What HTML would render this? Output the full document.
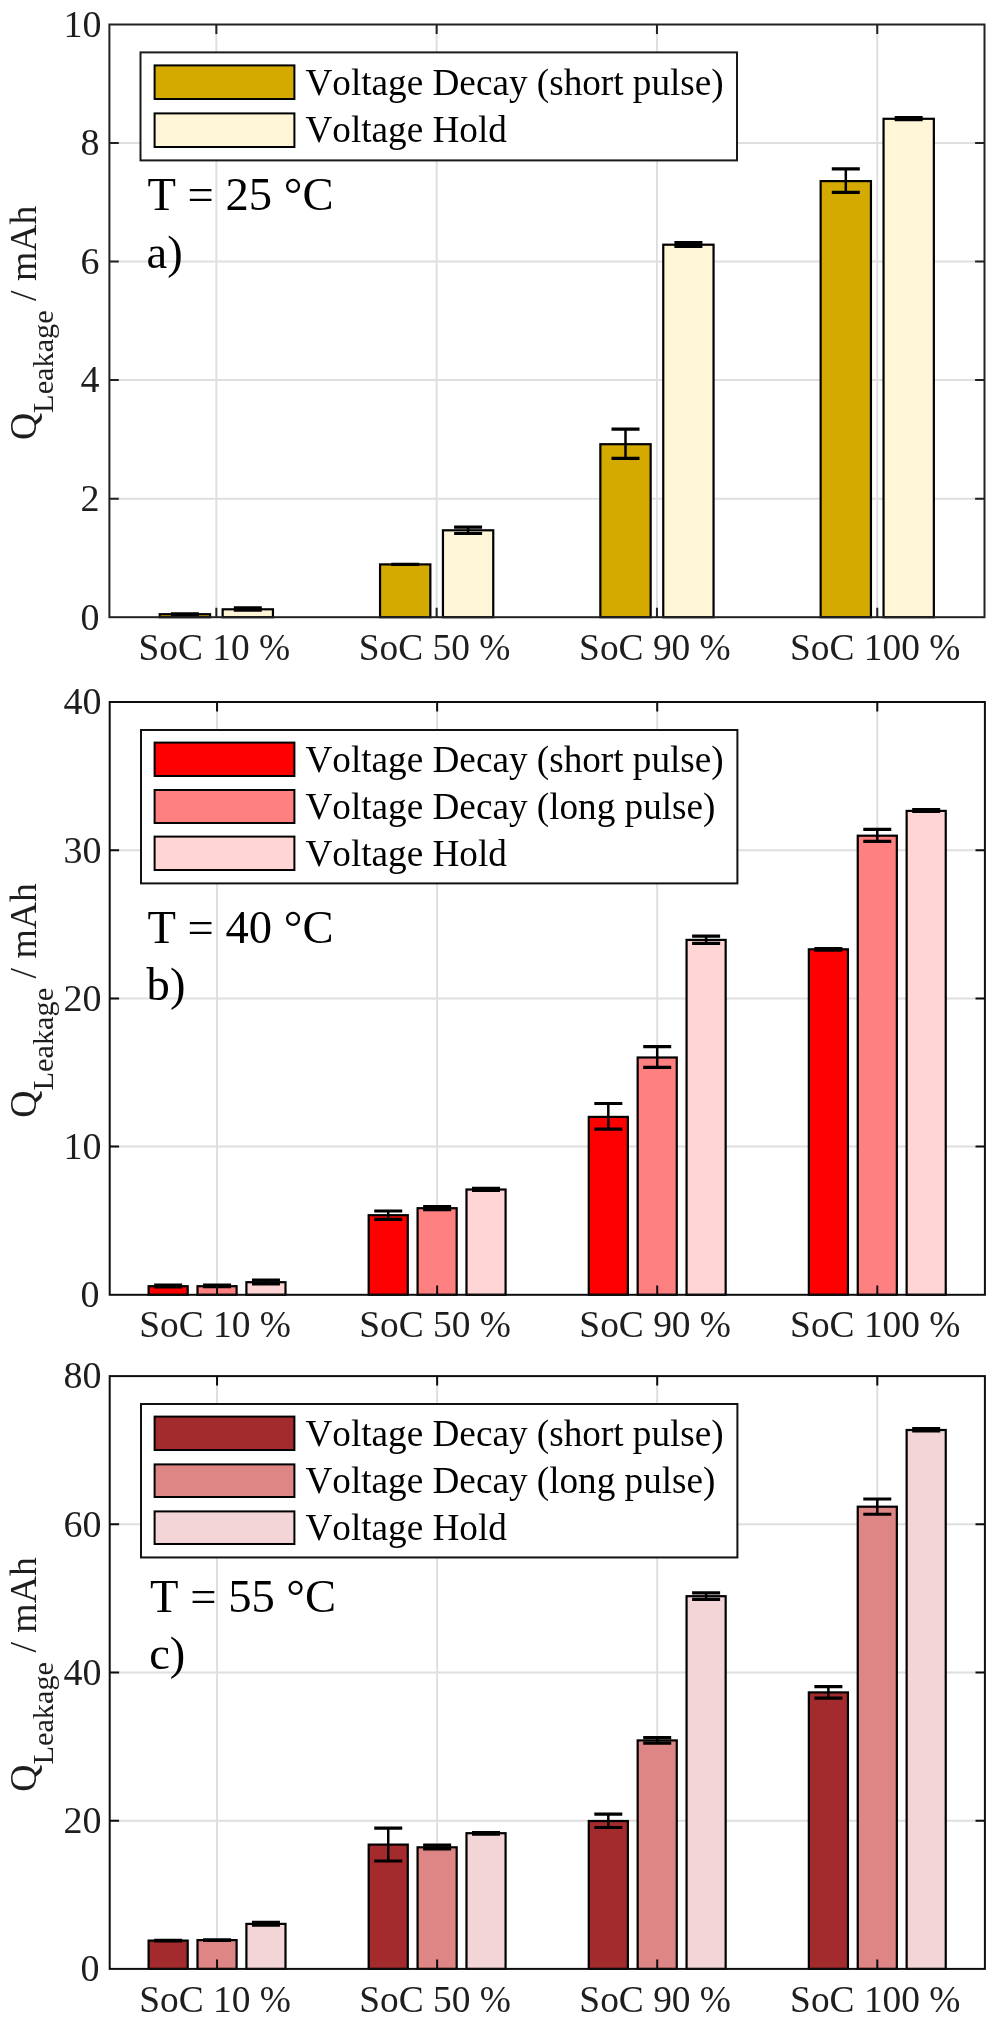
<!DOCTYPE html><html><head><meta charset="utf-8"><style>html,body{margin:0;padding:0;background:#fff;}svg{display:block;will-change:transform;}text{font-family:"Liberation Serif", serif;font-kerning:none;}</style></head><body>
<svg width="1000" height="2026" viewBox="0 0 1000 2026">
<rect x="0" y="0" width="1000" height="2026" fill="#fff"/>
<path d="M216.35 24.5V617.2M436.65 24.5V617.2M656.95 24.5V617.2M877.25 24.5V617.2M109.4 498.66H984.5M109.4 380.12H984.5M109.4 261.58H984.5M109.4 143.04H984.5" stroke="#dfdfdf" stroke-width="2" fill="none"/>
<rect x="159.75" y="614.2" width="50.3" height="3" fill="#d4aa00" stroke="#000" stroke-width="2.2"/>
<rect x="222.65" y="609.3" width="50.3" height="7.9" fill="#fff5d7" stroke="#000" stroke-width="2.2"/>
<rect x="380.05" y="564.4" width="50.3" height="52.8" fill="#d4aa00" stroke="#000" stroke-width="2.2"/>
<rect x="442.95" y="530.3" width="50.3" height="86.9" fill="#fff5d7" stroke="#000" stroke-width="2.2"/>
<rect x="600.35" y="444.2" width="50.3" height="173" fill="#d4aa00" stroke="#000" stroke-width="2.2"/>
<rect x="663.25" y="244.7" width="50.3" height="372.5" fill="#fff5d7" stroke="#000" stroke-width="2.2"/>
<rect x="820.65" y="181.1" width="50.3" height="436.1" fill="#d4aa00" stroke="#000" stroke-width="2.2"/>
<rect x="883.55" y="118.8" width="50.3" height="498.4" fill="#fff5d7" stroke="#000" stroke-width="2.2"/>
<path d="M184.9 613.9V614.6" stroke="#000" stroke-width="2.5" fill="none"/>
<path d="M170.9 613.9H198.9M170.9 614.6H198.9" stroke="#000" stroke-width="3.2" fill="none"/>
<path d="M247.8 607.9V610.1" stroke="#000" stroke-width="2.5" fill="none"/>
<path d="M233.8 607.9H261.8M233.8 610.1H261.8" stroke="#000" stroke-width="3.2" fill="none"/>
<path d="M405.2 564.3V564.5" stroke="#000" stroke-width="2.5" fill="none"/>
<path d="M391.2 564.3H419.2M391.2 564.5H419.2" stroke="#000" stroke-width="3.2" fill="none"/>
<path d="M468.1 527.2V533.5" stroke="#000" stroke-width="2.5" fill="none"/>
<path d="M454.1 527.2H482.1M454.1 533.5H482.1" stroke="#000" stroke-width="3.2" fill="none"/>
<path d="M625.5 429.2V458.4" stroke="#000" stroke-width="2.5" fill="none"/>
<path d="M611.5 429.2H639.5M611.5 458.4H639.5" stroke="#000" stroke-width="3.2" fill="none"/>
<path d="M688.4 242.6V246.3" stroke="#000" stroke-width="2.5" fill="none"/>
<path d="M674.4 242.6H702.4M674.4 246.3H702.4" stroke="#000" stroke-width="3.2" fill="none"/>
<path d="M845.8 168.9V192.4" stroke="#000" stroke-width="2.5" fill="none"/>
<path d="M831.8 168.9H859.8M831.8 192.4H859.8" stroke="#000" stroke-width="3.2" fill="none"/>
<path d="M908.7 117.6V119.6" stroke="#000" stroke-width="2.5" fill="none"/>
<path d="M894.7 117.6H922.7M894.7 119.6H922.7" stroke="#000" stroke-width="3.2" fill="none"/>
<path d="M216.35 617.2V607.8M216.35 24.5V33.9M436.65 617.2V607.8M436.65 24.5V33.9M656.95 617.2V607.8M656.95 24.5V33.9M877.25 617.2V607.8M877.25 24.5V33.9M109.4 498.66H118.8M984.5 498.66H975.1M109.4 380.12H118.8M984.5 380.12H975.1M109.4 261.58H118.8M984.5 261.58H975.1M109.4 143.04H118.8M984.5 143.04H975.1" stroke="#222222" stroke-width="2" fill="none"/>
<rect x="109.4" y="24.5" width="875.1" height="592.7" fill="none" stroke="#222222" stroke-width="2"/>
<text x="99.6" y="629.5" font-size="38" text-anchor="end" fill="#1e1e1e">0</text>
<text x="99.6" y="510.96" font-size="38" text-anchor="end" fill="#1e1e1e">2</text>
<text x="99.6" y="392.42" font-size="38" text-anchor="end" fill="#1e1e1e">4</text>
<text x="99.6" y="273.88" font-size="38" text-anchor="end" fill="#1e1e1e">6</text>
<text x="99.6" y="155.34" font-size="38" text-anchor="end" fill="#1e1e1e">8</text>
<text x="101.5" y="36.8" font-size="38" text-anchor="end" fill="#1e1e1e">10</text>
<text x="214.35" y="659.8" font-size="37.4" text-anchor="middle" fill="#1e1e1e">SoC 10 %</text>
<text x="434.65" y="659.8" font-size="37.4" text-anchor="middle" fill="#1e1e1e">SoC 50 %</text>
<text x="654.95" y="659.8" font-size="37.4" text-anchor="middle" fill="#1e1e1e">SoC 90 %</text>
<text x="875.25" y="659.8" font-size="37.4" text-anchor="middle" fill="#1e1e1e">SoC 100 %</text>
<text transform="translate(35.9 322.85) rotate(-90)" font-size="37.7" text-anchor="middle" fill="#1e1e1e">Q<tspan font-size="30.3" dy="17.4">Leakage</tspan><tspan dy="-17.4"> / mAh</tspan></text>
<rect x="140.5" y="52.4" width="596.5" height="108" fill="#fff" stroke="#1a1a1a" stroke-width="2.0"/>
<rect x="154.6" y="65.4" width="139.8" height="33.6" fill="#d4aa00" stroke="#000" stroke-width="2"/>
<text x="305.5" y="95" font-size="37.2" fill="#000">Voltage Decay (short pulse)</text>
<rect x="154.6" y="113.4" width="139.8" height="33.6" fill="#fff5d7" stroke="#000" stroke-width="2"/>
<text x="305.5" y="142.2" font-size="37.2" fill="#000">Voltage Hold</text>
<text x="147.5" y="210" font-size="46.6" fill="#000">T = 25 °C</text>
<text x="146.6" y="268" font-size="46.6" fill="#000">a)</text>
<path d="M217.05 702V1294.8M437.13 702V1294.8M657.21 702V1294.8M877.29 702V1294.8M109.7 1146.6H984.9M109.7 998.4H984.9M109.7 850.2H984.9" stroke="#dfdfdf" stroke-width="2" fill="none"/>
<rect x="148.6" y="1286.2" width="39.1" height="8.6" fill="#ff0000" stroke="#000" stroke-width="2.2"/>
<rect x="197.5" y="1286.2" width="39.1" height="8.6" fill="#ff8080" stroke="#000" stroke-width="2.2"/>
<rect x="246.4" y="1282.2" width="39.1" height="12.6" fill="#ffd5d5" stroke="#000" stroke-width="2.2"/>
<rect x="368.68" y="1215.2" width="39.1" height="79.6" fill="#ff0000" stroke="#000" stroke-width="2.2"/>
<rect x="417.58" y="1208.2" width="39.1" height="86.6" fill="#ff8080" stroke="#000" stroke-width="2.2"/>
<rect x="466.48" y="1189.5" width="39.1" height="105.3" fill="#ffd5d5" stroke="#000" stroke-width="2.2"/>
<rect x="588.76" y="1116.9" width="39.1" height="177.9" fill="#ff0000" stroke="#000" stroke-width="2.2"/>
<rect x="637.66" y="1057.5" width="39.1" height="237.3" fill="#ff8080" stroke="#000" stroke-width="2.2"/>
<rect x="686.56" y="939.9" width="39.1" height="354.9" fill="#ffd5d5" stroke="#000" stroke-width="2.2"/>
<rect x="808.84" y="949.3" width="39.1" height="345.5" fill="#ff0000" stroke="#000" stroke-width="2.2"/>
<rect x="857.74" y="835.7" width="39.1" height="459.1" fill="#ff8080" stroke="#000" stroke-width="2.2"/>
<rect x="906.64" y="810.9" width="39.1" height="483.9" fill="#ffd5d5" stroke="#000" stroke-width="2.2"/>
<path d="M168.15 1285.2V1287" stroke="#000" stroke-width="2.5" fill="none"/>
<path d="M154.15 1285.2H182.15M154.15 1287H182.15" stroke="#000" stroke-width="3.2" fill="none"/>
<path d="M217.05 1285.2V1286.6" stroke="#000" stroke-width="2.5" fill="none"/>
<path d="M203.05 1285.2H231.05M203.05 1286.6H231.05" stroke="#000" stroke-width="3.2" fill="none"/>
<path d="M265.95 1280V1283.9" stroke="#000" stroke-width="2.5" fill="none"/>
<path d="M251.95 1280H279.95M251.95 1283.9H279.95" stroke="#000" stroke-width="3.2" fill="none"/>
<path d="M388.23 1211V1219.3" stroke="#000" stroke-width="2.5" fill="none"/>
<path d="M374.23 1211H402.23M374.23 1219.3H402.23" stroke="#000" stroke-width="3.2" fill="none"/>
<path d="M437.13 1206.6V1209.6" stroke="#000" stroke-width="2.5" fill="none"/>
<path d="M423.13 1206.6H451.13M423.13 1209.6H451.13" stroke="#000" stroke-width="3.2" fill="none"/>
<path d="M486.03 1188.4V1190.4" stroke="#000" stroke-width="2.5" fill="none"/>
<path d="M472.03 1188.4H500.03M472.03 1190.4H500.03" stroke="#000" stroke-width="3.2" fill="none"/>
<path d="M608.31 1103.5V1129.2" stroke="#000" stroke-width="2.5" fill="none"/>
<path d="M594.31 1103.5H622.31M594.31 1129.2H622.31" stroke="#000" stroke-width="3.2" fill="none"/>
<path d="M657.21 1046.6V1067.4" stroke="#000" stroke-width="2.5" fill="none"/>
<path d="M643.21 1046.6H671.21M643.21 1067.4H671.21" stroke="#000" stroke-width="3.2" fill="none"/>
<path d="M706.11 936.15V943.45" stroke="#000" stroke-width="2.5" fill="none"/>
<path d="M692.11 936.15H720.11M692.11 943.45H720.11" stroke="#000" stroke-width="3.2" fill="none"/>
<path d="M828.39 948.6V950.2" stroke="#000" stroke-width="2.5" fill="none"/>
<path d="M814.39 948.6H842.39M814.39 950.2H842.39" stroke="#000" stroke-width="3.2" fill="none"/>
<path d="M877.29 829.4V841.4" stroke="#000" stroke-width="2.5" fill="none"/>
<path d="M863.29 829.4H891.29M863.29 841.4H891.29" stroke="#000" stroke-width="3.2" fill="none"/>
<path d="M926.19 809.7V811.3" stroke="#000" stroke-width="2.5" fill="none"/>
<path d="M912.19 809.7H940.19M912.19 811.3H940.19" stroke="#000" stroke-width="3.2" fill="none"/>
<path d="M217.05 1294.8V1285.4M217.05 702V711.4M437.13 1294.8V1285.4M437.13 702V711.4M657.21 1294.8V1285.4M657.21 702V711.4M877.29 1294.8V1285.4M877.29 702V711.4M109.7 1146.6H119.1M984.9 1146.6H975.5M109.7 998.4H119.1M984.9 998.4H975.5M109.7 850.2H119.1M984.9 850.2H975.5" stroke="#0e0e0e" stroke-width="2" fill="none"/>
<rect x="109.7" y="702" width="875.2" height="592.8" fill="none" stroke="#0e0e0e" stroke-width="2"/>
<text x="99.6" y="1307.1" font-size="38" text-anchor="end" fill="#1e1e1e">0</text>
<text x="101.5" y="1158.9" font-size="38" text-anchor="end" fill="#1e1e1e">10</text>
<text x="101.5" y="1010.7" font-size="38" text-anchor="end" fill="#1e1e1e">20</text>
<text x="101.5" y="862.5" font-size="38" text-anchor="end" fill="#1e1e1e">30</text>
<text x="101.5" y="714.3" font-size="38" text-anchor="end" fill="#1e1e1e">40</text>
<text x="215.05" y="1337.4" font-size="37.4" text-anchor="middle" fill="#1e1e1e">SoC 10 %</text>
<text x="435.13" y="1337.4" font-size="37.4" text-anchor="middle" fill="#1e1e1e">SoC 50 %</text>
<text x="655.21" y="1337.4" font-size="37.4" text-anchor="middle" fill="#1e1e1e">SoC 90 %</text>
<text x="875.29" y="1337.4" font-size="37.4" text-anchor="middle" fill="#1e1e1e">SoC 100 %</text>
<text transform="translate(35.9 1000.4) rotate(-90)" font-size="37.7" text-anchor="middle" fill="#1e1e1e">Q<tspan font-size="30.3" dy="17.4">Leakage</tspan><tspan dy="-17.4"> / mAh</tspan></text>
<rect x="141" y="730" width="596.4" height="153.4" fill="#fff" stroke="#111111" stroke-width="2.0"/>
<rect x="154.6" y="742.6" width="139.8" height="33.4" fill="#ff0000" stroke="#000" stroke-width="2"/>
<text x="305.5" y="771.8" font-size="37.2" fill="#000">Voltage Decay (short pulse)</text>
<rect x="154.6" y="790" width="139.8" height="33" fill="#ff8080" stroke="#000" stroke-width="2"/>
<text x="305.5" y="819" font-size="37.2" fill="#000">Voltage Decay (long pulse)</text>
<rect x="154.6" y="836.6" width="139.8" height="33.4" fill="#ffd5d5" stroke="#000" stroke-width="2"/>
<text x="305.5" y="866" font-size="37.2" fill="#000">Voltage Hold</text>
<text x="147.5" y="943" font-size="46.6" fill="#000">T = 40 °C</text>
<text x="146.6" y="1000" font-size="46.6" fill="#000">b)</text>
<path d="M217.05 1376.1V1968.9M437.13 1376.1V1968.9M657.21 1376.1V1968.9M877.29 1376.1V1968.9M109.7 1820.7H984.9M109.7 1672.5H984.9M109.7 1524.3H984.9" stroke="#dfdfdf" stroke-width="2" fill="none"/>
<rect x="148.6" y="1940.6" width="39.1" height="28.3" fill="#a32a2d" stroke="#000" stroke-width="2.2"/>
<rect x="197.5" y="1940.1" width="39.1" height="28.8" fill="#de8585" stroke="#000" stroke-width="2.2"/>
<rect x="246.4" y="1923.9" width="39.1" height="45" fill="#f3d5d7" stroke="#000" stroke-width="2.2"/>
<rect x="368.68" y="1844.6" width="39.1" height="124.3" fill="#a32a2d" stroke="#000" stroke-width="2.2"/>
<rect x="417.58" y="1847.3" width="39.1" height="121.6" fill="#de8585" stroke="#000" stroke-width="2.2"/>
<rect x="466.48" y="1833.2" width="39.1" height="135.7" fill="#f3d5d7" stroke="#000" stroke-width="2.2"/>
<rect x="588.76" y="1821" width="39.1" height="147.9" fill="#a32a2d" stroke="#000" stroke-width="2.2"/>
<rect x="637.66" y="1740.4" width="39.1" height="228.5" fill="#de8585" stroke="#000" stroke-width="2.2"/>
<rect x="686.56" y="1596.2" width="39.1" height="372.7" fill="#f3d5d7" stroke="#000" stroke-width="2.2"/>
<rect x="808.84" y="1692.4" width="39.1" height="276.5" fill="#a32a2d" stroke="#000" stroke-width="2.2"/>
<rect x="857.74" y="1506.7" width="39.1" height="462.2" fill="#de8585" stroke="#000" stroke-width="2.2"/>
<rect x="906.64" y="1430" width="39.1" height="538.9" fill="#f3d5d7" stroke="#000" stroke-width="2.2"/>
<path d="M168.15 1940.4V1940.8" stroke="#000" stroke-width="2.5" fill="none"/>
<path d="M154.15 1940.4H182.15M154.15 1940.8H182.15" stroke="#000" stroke-width="3.2" fill="none"/>
<path d="M217.05 1939.9V1940.3" stroke="#000" stroke-width="2.5" fill="none"/>
<path d="M203.05 1939.9H231.05M203.05 1940.3H231.05" stroke="#000" stroke-width="3.2" fill="none"/>
<path d="M265.95 1922.4V1925.2" stroke="#000" stroke-width="2.5" fill="none"/>
<path d="M251.95 1922.4H279.95M251.95 1925.2H279.95" stroke="#000" stroke-width="3.2" fill="none"/>
<path d="M388.23 1828.2V1861" stroke="#000" stroke-width="2.5" fill="none"/>
<path d="M374.23 1828.2H402.23M374.23 1861H402.23" stroke="#000" stroke-width="3.2" fill="none"/>
<path d="M437.13 1845.1V1848.9" stroke="#000" stroke-width="2.5" fill="none"/>
<path d="M423.13 1845.1H451.13M423.13 1848.9H451.13" stroke="#000" stroke-width="3.2" fill="none"/>
<path d="M486.03 1832.6V1834.2" stroke="#000" stroke-width="2.5" fill="none"/>
<path d="M472.03 1832.6H500.03M472.03 1834.2H500.03" stroke="#000" stroke-width="3.2" fill="none"/>
<path d="M608.31 1814.15V1827.5" stroke="#000" stroke-width="2.5" fill="none"/>
<path d="M594.31 1814.15H622.31M594.31 1827.5H622.31" stroke="#000" stroke-width="3.2" fill="none"/>
<path d="M657.21 1737.7V1743.2" stroke="#000" stroke-width="2.5" fill="none"/>
<path d="M643.21 1737.7H671.21M643.21 1743.2H671.21" stroke="#000" stroke-width="3.2" fill="none"/>
<path d="M706.11 1592.8V1599.3" stroke="#000" stroke-width="2.5" fill="none"/>
<path d="M692.11 1592.8H720.11M692.11 1599.3H720.11" stroke="#000" stroke-width="3.2" fill="none"/>
<path d="M828.39 1686.6V1698.2" stroke="#000" stroke-width="2.5" fill="none"/>
<path d="M814.39 1686.6H842.39M814.39 1698.2H842.39" stroke="#000" stroke-width="3.2" fill="none"/>
<path d="M877.29 1499V1514.25" stroke="#000" stroke-width="2.5" fill="none"/>
<path d="M863.29 1499H891.29M863.29 1514.25H891.29" stroke="#000" stroke-width="3.2" fill="none"/>
<path d="M926.19 1428.5V1431" stroke="#000" stroke-width="2.5" fill="none"/>
<path d="M912.19 1428.5H940.19M912.19 1431H940.19" stroke="#000" stroke-width="3.2" fill="none"/>
<path d="M217.05 1968.9V1959.5M217.05 1376.1V1385.5M437.13 1968.9V1959.5M437.13 1376.1V1385.5M657.21 1968.9V1959.5M657.21 1376.1V1385.5M877.29 1968.9V1959.5M877.29 1376.1V1385.5M109.7 1820.7H119.1M984.9 1820.7H975.5M109.7 1672.5H119.1M984.9 1672.5H975.5M109.7 1524.3H119.1M984.9 1524.3H975.5" stroke="#0e0e0e" stroke-width="2" fill="none"/>
<rect x="109.7" y="1376.1" width="875.2" height="592.8" fill="none" stroke="#0e0e0e" stroke-width="2"/>
<text x="99.6" y="1981.2" font-size="38" text-anchor="end" fill="#1e1e1e">0</text>
<text x="101.5" y="1833" font-size="38" text-anchor="end" fill="#1e1e1e">20</text>
<text x="101.5" y="1684.8" font-size="38" text-anchor="end" fill="#1e1e1e">40</text>
<text x="101.5" y="1536.6" font-size="38" text-anchor="end" fill="#1e1e1e">60</text>
<text x="101.5" y="1388.4" font-size="38" text-anchor="end" fill="#1e1e1e">80</text>
<text x="215.05" y="2011.5" font-size="37.4" text-anchor="middle" fill="#1e1e1e">SoC 10 %</text>
<text x="435.13" y="2011.5" font-size="37.4" text-anchor="middle" fill="#1e1e1e">SoC 50 %</text>
<text x="655.21" y="2011.5" font-size="37.4" text-anchor="middle" fill="#1e1e1e">SoC 90 %</text>
<text x="875.29" y="2011.5" font-size="37.4" text-anchor="middle" fill="#1e1e1e">SoC 100 %</text>
<text transform="translate(35.9 1674.5) rotate(-90)" font-size="37.7" text-anchor="middle" fill="#1e1e1e">Q<tspan font-size="30.3" dy="17.4">Leakage</tspan><tspan dy="-17.4"> / mAh</tspan></text>
<rect x="141" y="1404" width="596.4" height="153.45" fill="#fff" stroke="#111111" stroke-width="2.0"/>
<rect x="154.6" y="1416.6" width="139.8" height="33.4" fill="#a32a2d" stroke="#000" stroke-width="2"/>
<text x="305.5" y="1445.8" font-size="37.2" fill="#000">Voltage Decay (short pulse)</text>
<rect x="154.6" y="1464.4" width="139.8" height="32.6" fill="#de8585" stroke="#000" stroke-width="2"/>
<text x="305.5" y="1493.2" font-size="37.2" fill="#000">Voltage Decay (long pulse)</text>
<rect x="154.6" y="1511.4" width="139.8" height="32.6" fill="#f3d5d7" stroke="#000" stroke-width="2"/>
<text x="305.5" y="1540.2" font-size="37.2" fill="#000">Voltage Hold</text>
<text x="150.1" y="1612" font-size="46.6" fill="#000">T = 55 °C</text>
<text x="149.2" y="1669" font-size="46.6" fill="#000">c)</text>
</svg></body></html>
